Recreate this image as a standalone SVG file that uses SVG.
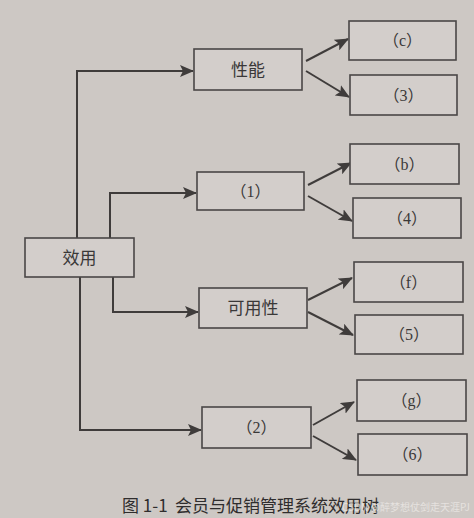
<svg xmlns="http://www.w3.org/2000/svg" width="474" height="518" viewBox="0 0 474 518">
<defs>
<style>
.bg{fill:#cdc8c4}
.box{fill:#d3cecb;stroke:#4a4746;stroke-width:1.6}
.cn{font-family:"Noto Sans CJK SC","Noto Sans CJK JP",sans-serif;font-size:17px;fill:#3a3838;text-anchor:middle}
.lbl{font-family:"Liberation Serif","Noto Sans CJK SC",serif;font-size:16px;fill:#3a3838;text-anchor:middle}
.ln{fill:none;stroke:#3f3c3b;stroke-width:2}
.cap{font-family:"Noto Sans CJK SC","Noto Sans CJK JP",serif;font-size:17px;fill:#2f2d2d}
.wm{font-family:"Noto Sans CJK SC",sans-serif;font-size:10px;fill:#ece9e6;opacity:0.8}
</style>
<marker id="ah2" markerWidth="14" markerHeight="12" refX="13" refY="6" orient="auto" markerUnits="userSpaceOnUse" viewBox="0 0 14 12">
<path d="M0,0 L14,6 L0,12 L3,6 Z" fill="#3f3c3b"/>
</marker>
</defs>
<rect class="bg" x="0" y="0" width="474" height="518"/>
<g id="connectors">
<polyline class="ln" points="77,238 77,71 193,71" marker-end="url(#ah2)"/>
<polyline class="ln" points="110,238 110,193 196,193" marker-end="url(#ah2)"/>
<polyline class="ln" points="113,277 113,312 198,312" marker-end="url(#ah2)"/>
<polyline class="ln" points="80,277 80,430 201,430" marker-end="url(#ah2)"/>
<line class="ln" x1="306" y1="61" x2="348" y2="39" marker-end="url(#ah2)"/>
<line class="ln" x1="306" y1="71" x2="349" y2="97" marker-end="url(#ah2)"/>
<line class="ln" x1="308" y1="185" x2="351" y2="163" marker-end="url(#ah2)"/>
<line class="ln" x1="308" y1="196" x2="352" y2="221" marker-end="url(#ah2)"/>
<line class="ln" x1="308" y1="300" x2="352" y2="278" marker-end="url(#ah2)"/>
<line class="ln" x1="308" y1="312" x2="353" y2="335" marker-end="url(#ah2)"/>
<line class="ln" x1="313" y1="425" x2="354" y2="402" marker-end="url(#ah2)"/>
<line class="ln" x1="313" y1="436" x2="356" y2="460" marker-end="url(#ah2)"/>
</g>
<g id="root"><rect class="box" x="25" y="238" width="109" height="39"/><text class="cn" x="79.5" y="263.5">效用</text></g>
<g id="perf"><rect class="box" x="194" y="49" width="108" height="41"/><text class="cn" x="248" y="75.5">性能</text></g>
<g id="n1"><rect class="box" x="197" y="172" width="107" height="38"/><text class="lbl" x="250.5" y="196.5">（1）</text></g>
<g id="avail"><rect class="box" x="199" y="288" width="108" height="40"/><text class="cn" x="253" y="314">可用性</text></g>
<g id="n2"><rect class="box" x="202" y="407" width="109" height="41"/><text class="lbl" x="256.5" y="433">（2）</text></g>
<g id="nc"><rect class="box" x="349" y="21" width="107" height="39"/><text class="lbl" x="402.5" y="46">（c）</text></g>
<g id="n3"><rect class="box" x="350" y="75" width="107" height="40"/><text class="lbl" x="403.5" y="100.5">（3）</text></g>
<g id="nb"><rect class="box" x="350" y="144" width="109" height="40"/><text class="lbl" x="404.5" y="169.5">（b）</text></g>
<g id="n4"><rect class="box" x="353" y="198" width="108" height="40"/><text class="lbl" x="407" y="223.5">（4）</text></g>
<g id="nf"><rect class="box" x="354" y="262" width="109" height="40"/><text class="lbl" x="408.5" y="287.5">（f）</text></g>
<g id="n5"><rect class="box" x="355" y="315" width="108" height="39"/><text class="lbl" x="409" y="340">（5）</text></g>
<g id="ng"><rect class="box" x="357" y="380" width="109" height="41"/><text class="lbl" x="411.5" y="406">（g）</text></g>
<g id="n6"><rect class="box" x="358" y="434" width="109" height="41"/><text class="lbl" x="412.5" y="460">（6）</text></g>
<text class="cap" x="122" y="512">图 1-1<tspan x="175">会员与促销管理系统效用树</tspan></text>
<text class="wm" x="342" y="511">CSDN @醉梦想仗剑走天涯PJ</text>
</svg>
